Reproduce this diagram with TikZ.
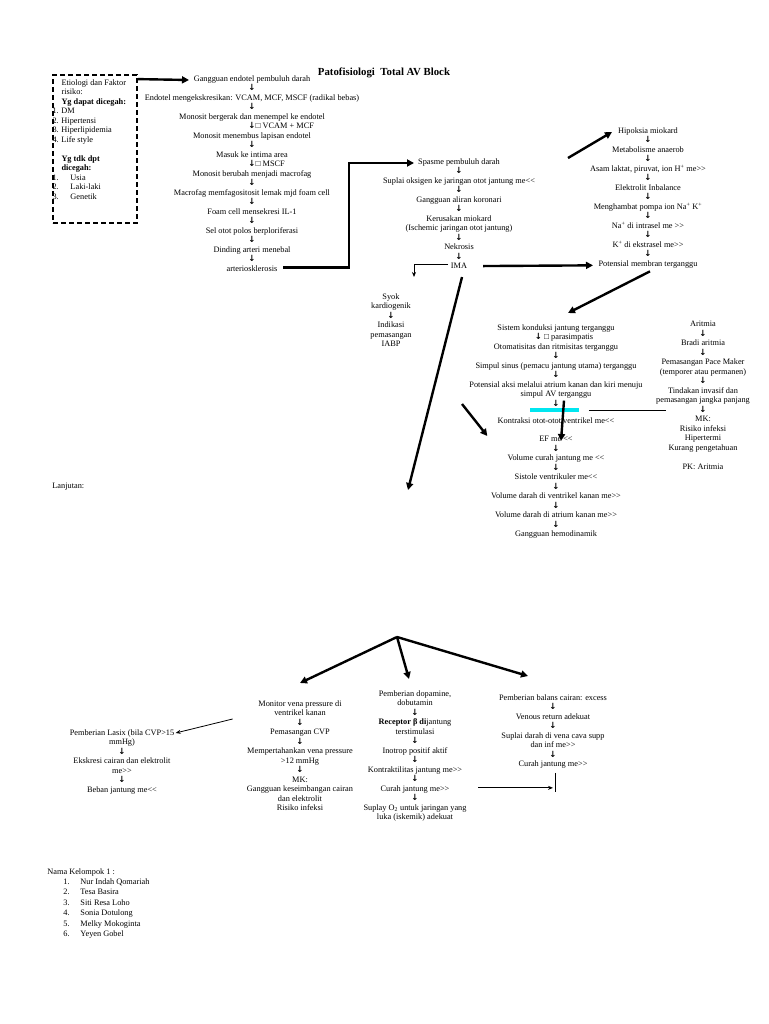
\documentclass[tikz,border=0pt]{standalone}
\usepackage{fontspec}
\setmainfont{Liberation Serif}
\newfontfamily\panahfont{DejaVu Sans}
\usetikzlibrary{arrows.meta,calc,positioning}
\definecolor{Cyan}{RGB}{0,230,240}
\newcommand{\turun}{\smash{\panahfont\bfseries\fontsize{8.5}{8.5}\selectfont ↓}}

\begin{document}
\begin{tikzpicture}[
    x=1pt, y=-1pt,
    line width=0.8pt,
    >=Stealth,
    font=\fontsize{8.3}{9.5}\selectfont,
    flow/.style={align=center, inner sep=0pt, anchor=north},
    bold arrow/.style={line width=2.4pt, -{Triangle[length=7pt,width=7pt]}},
    thin arrow/.style={line width=0.8pt, -{Stealth[length=5pt,width=4pt]}},
    dashbox/.style={draw, line width=1.8pt, dash pattern=on 5pt off 3pt, inner sep=0pt}
]
  \useasboundingbox (0,0) rectangle (768,1024);

  \node[font=\bfseries\fontsize{10.8}{12}\selectfont] (title) at (384,73) {Patofisiologi\ \ Total AV Block};

  \node[dashbox, minimum width=84pt, minimum height=148pt] (faktor) at (95,149) {};
  \node[align=left, inner sep=0pt, anchor=north west] (faktorteks) at ($(faktor.north west)+(9,5)$) {
    Etiologi dan Faktor\\ risiko:\\ \textbf{Yg dapat dicegah:}\\
    \hspace*{-9pt}1. DM\\ \hspace*{-9pt}2. Hipertensi\\ \hspace*{-9pt}3. Hiperlipidemia\\ \hspace*{-9pt}4. Life style\\[9.5pt]
    \textbf{Yg tdk dpt}\\ \textbf{dicegah:}\\
    \hspace*{-9pt}\makebox[18pt][l]{1.}Usia\\ \hspace*{-9pt}\makebox[18pt][l]{2.}Laki-laki\\ \hspace*{-9pt}\makebox[18pt][l]{3.}Genetik};

  \node[flow] (endotel) at (252,75) {
    Gangguan endotel pembuluh darah\\ \turun\\
    Endotel mengekskresikan: VCAM, MCF, MSCF (radikal bebas)\\ \turun\\
    Monosit bergerak dan menempel ke endotel\\ \turun\rlap{□ VCAM + MCF}\\
    Monosit menembus lapisan endotel\\ \turun\\
    Masuk ke intima area\\ \turun\rlap{□ MSCF}\\
    Monosit berubah menjadi macrofag\\ \turun\\
    Macrofag memfagositosit lemak mjd foam cell\\ \turun\\
    Foam cell mensekresi IL-1\\ \turun\\
    Sel otot polos berploriferasi\\ \turun\\
    Dinding arteri menebal\\ \turun\\
    arteriosklerosis};

  \node[flow] (iskemia) at (459,158) {
    Spasme pembuluh darah\\ \turun\\
    Suplai oksigen ke jaringan otot jantung me<{}<\\ \turun\\
    Gangguan aliran koronari\\ \turun\\
    Kerusakan miokard\\ (Ischemic jaringan otot jantung)\\ \turun\\
    Nekrosis\\ \turun\\
    IMA};

  \node[flow] (hipoksia) at (648,127) {
    Hipoksia miokard\\ \turun\\
    Metabolisme anaerob\\ \turun\\
    Asam laktat, piruvat, ion H\textsuperscript{+} me>{}>\\ \turun\\
    Elektrolit Inbalance\\ \turun\\
    Menghambat pompa ion Na\textsuperscript{+} K\textsuperscript{+}\\ \turun\\
    Na\textsuperscript{+} di intrasel me >{}>\\ \turun\\
    K\textsuperscript{+} di ekstrasel me>{}>\\ \turun\\
    Potensial membran terganggu};

  \node[flow] (syok) at (391,293) {
    Syok\\ kardiogenik\\ \turun\\ Indikasi\\ pemasangan\\ IABP};

  \node[flow] (konduksi) at (556,324) {
    Sistem konduksi jantung terganggu\\ \hspace*{16pt}\turun\ □ parasimpatis\\
    Otomatisitas dan ritmisitas terganggu\\ \turun\\
    Simpul sinus (pemacu jantung utama) terganggu\\ \turun\\
    Potensial aksi melalui atrium kanan dan kiri menuju\\ simpul AV terganggu\\ \turun};

  \node[fill=Cyan, minimum width=49pt, minimum height=4pt, inner sep=0pt] (blok) at (554,410) {};
  \node[inner sep=0pt] (kontraksi) at (556,421) {Kontraksi otot-otot ventrikel me<{}<};

  \node[flow] (hemo) at (556,436) {
    EF me <{}<\\ \turun\\
    Volume curah jantung me <{}<\\ \turun\\
    Sistole ventrikuler me<{}<\\ \turun\\
    Volume darah di ventrikel kanan me>{}>\\ \turun\\
    Volume darah di atrium kanan me>{}>\\ \turun\\
    Gangguan hemodinamik};

  \node[flow] (aritmia) at (703,321) {
    Aritmia\\ \turun\\ Bradi aritmia\\ \turun\\
    Pemasangan Pace Maker\\ (temporer atau permanen)\\ \turun\\
    Tindakan invasif dan\\ pemasangan jangka panjang\\ \turun\\
    MK:\\ Risiko infeksi\\ Hipertermi\\ Kurang pengetahuan\\[9.5pt]
    PK: Aritmia};

  \node[anchor=west, inner sep=0pt] (lanjut) at (52,487) {Lanjutan:};

  \node[flow] (monitor) at (300,700) {
    Monitor vena pressure di\\ ventrikel kanan\\ \turun\\
    Pemasangan CVP\\ \turun\\
    Mempertahankan vena pressure\\ >12 mmHg\\ \turun\\
    MK:\\ Gangguan keseimbangan cairan\\ dan elektrolit\\ Risiko infeksi};

  \node[flow] (lasix) at (122,729) {
    Pemberian Lasix (bila CVP>15\\ mmHg)\\ \turun\\
    Ekskresi cairan dan elektrolit\\ me>{}>\\ \turun\\
    Beban jantung me<{}<};

  \node[flow] (dopamin) at (415,690) {
    Pemberian dopamine,\\ dobutamin\\ \turun\\
    \textbf{Receptor β di}jantung\\ terstimulasi\\ \turun\\
    Inotrop positif aktif\\ \turun\\
    Kontraktilitas jantung me>{}>\\ \turun\\
    Curah jantung me>{}>\\ \turun\\
    Suplay O\textsubscript{2} untuk jaringan yang\\ luka (iskemik) adekuat};

  \node[flow] (balans) at (553,694) {
    Pemberian balans cairan: excess\\ \turun\\
    Venous return adekuat\\ \turun\\
    Suplai darah di vena cava supp\\ dan inf me>{}>\\ \turun\\
    Curah jantung me>{}>};

  \node[align=left, inner sep=0pt, anchor=north west, font=\fontsize{8.3}{10.4}\selectfont] (kelompok) at (47,868) {
    Nama Kelompok 1 :\\
    \hspace*{16pt}\makebox[17pt][l]{1.}Nur Indah Qomariah\\
    \hspace*{16pt}\makebox[17pt][l]{2.}Tesa Basira\\
    \hspace*{16pt}\makebox[17pt][l]{3.}Siti Resa Loho\\
    \hspace*{16pt}\makebox[17pt][l]{4.}Sonia Dotulong\\
    \hspace*{16pt}\makebox[17pt][l]{5.}Melky Mokoginta\\
    \hspace*{16pt}\makebox[17pt][l]{6.}Yeyen Gobel};

  \coordinate (lanjutan) at (408,490);
  \coordinate (cabang) at (397,637);
  \coordinate (miring) at (462,404);

  \draw[bold arrow] ($(faktor.north east)+(0,5)$) -- ($(endotel.north)+(-63,5)$);
  \draw[line width=2.4pt] ($(endotel.south)+(31,-4)$) -- ($(endotel.south)+(97,-4)$) coordinate (belok);
  \draw[bold arrow] ($(belok)+(0,1.2)$) |- ($(iskemia.north)+(-45,5)$);
  \draw[bold arrow] ($(iskemia.north)+(109,0)$) -- ($(hipoksia.north)+(-36,5)$);
  \draw[bold arrow] ($(iskemia.south)+(24,-3)$) -- ($(hipoksia.south)+(-55,-3)$);
  \draw[thin arrow] ($(iskemia.south)+(-11,-5)$) -| ($(syok.north)+(23,-16)$);
  \draw[bold arrow] ($(iskemia.south)+(3,8)$) -- (lanjutan);
  \draw[bold arrow] ($(hipoksia.south)+(2,3)$) -- ($(konduksi.north)+(12,-11)$);
  \draw[bold arrow] ($(konduksi.south)+(8,-6)$) -- ($(hemo.north)+(5,5)$);
  \draw[bold arrow] (miring) -- ($(kontraksi.west)+(-10,15)$);
  \draw ($(blok.east)+(10,0)$) -- ++(77,0);

  \draw[bold arrow] (cabang) -- ($(monitor.north)+(0,-17)$);
  \draw[bold arrow] (cabang) -- ($(dopamin.north)+(-6,-11)$);
  \draw[bold arrow] (cabang) -- ($(balans.north)+(-25,-18)$);
  \draw[thin arrow] ($(monitor.north west)+(-14,19)$) -- ($(lasix.north east)+(1,4)$);
  \draw ($(balans.south)+(2,4)$) -- ++(0,19);
  \draw[thin arrow] ($(balans.south)+(-75,19)$) -- ($(balans.south)+(0,19)$);
\end{tikzpicture}
\end{document}
